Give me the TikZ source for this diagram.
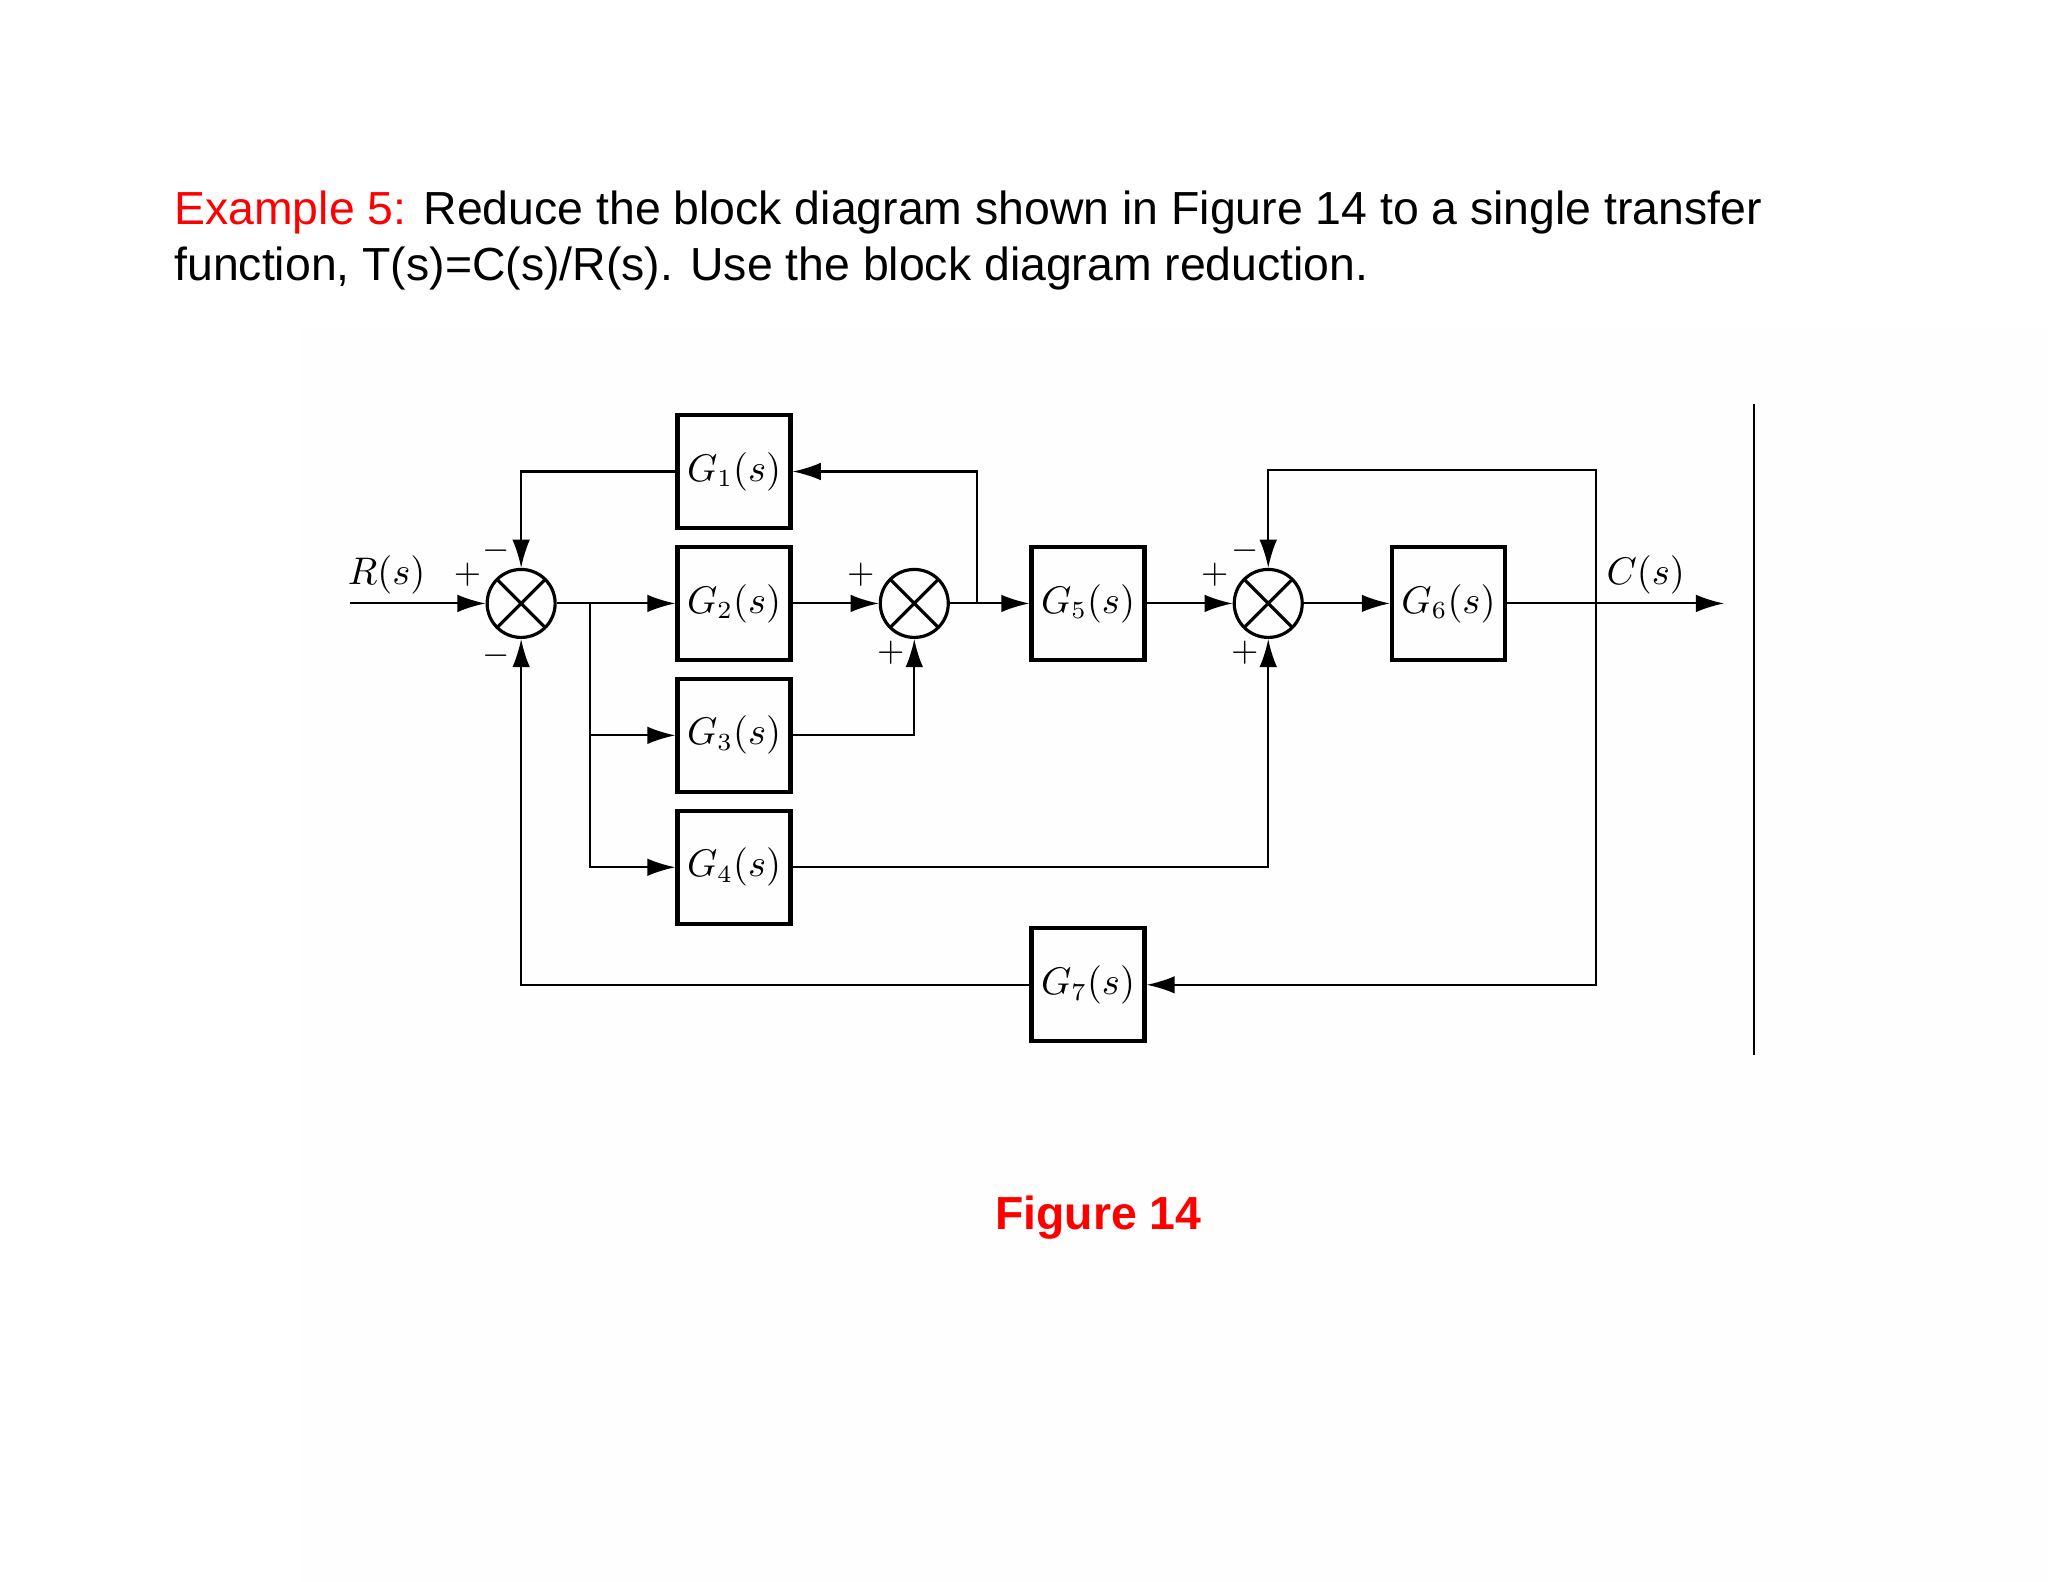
\documentclass[tikz,border=0pt]{standalone}
\usetikzlibrary{arrows.meta}
\usepackage{fontspec}
\setmainfont{Liberation Sans}
\begin{document}
\begin{tikzpicture}[x=0.01306cm,y=-0.01306cm,
  blk/.style={draw,line width=1.2pt,minimum width=1.13cm,minimum height=1.13cm,inner sep=0pt,font=\fontsize{10.5}{13}\selectfont},
  sum/.style={draw,circle,line width=0.9pt,minimum size=0.68cm,inner sep=0pt,
    path picture={\draw[line width=0.9pt] (path picture bounding box.north west)--(path picture bounding box.south east)
      (path picture bounding box.north east)--(path picture bounding box.south west);}},
  sig/.style={line width=0.6pt,-{Latex[length=8pt,width=5pt]}},
  ln/.style={line width=0.6pt},
  sg/.style={font=\fontsize{10}{12}\selectfont},
  ttl/.style={anchor=base west,inner sep=0pt,font=\fontsize{13.2}{16}\selectfont}]
\useasboundingbox (0,0) rectangle (1568,1211);
\fill[gray!1] (230,250) rectangle (1568,1211);
% title
\node[ttl] at (133,172) {\textcolor{red}{Example 5:} Reduce the block diagram shown in Figure 14 to a single transfer};
\node[ttl] at (133,215) {function, T(s)=C(s)/R(s). Use the block diagram reduction.};
% blocks
\node[blk] (g1) at (562,361) {$G_1(s)$};
\node[blk] (g2) at (562,462) {$G_2(s)$};
\node[blk] (g3) at (562,563) {$G_3(s)$};
\node[blk] (g4) at (562,664) {$G_4(s)$};
\node[blk] (g5) at (833,462) {$G_5(s)$};
\node[blk] (g6) at (1109,462) {$G_6(s)$};
\node[blk] (g7) at (833,754) {$G_7(s)$};
\node[sum] (s1) at (399,462) {};
\node[sum] (s2) at (700,462) {};
\node[sum] (s3) at (971,462) {};
% coordinates
\coordinate (in) at (268,462);
\coordinate (out) at (1320,462);
\coordinate (b1) at (452,462);
\coordinate (b2) at (748,462);
\coordinate (b3) at (1222,462);
% signals
\draw[sig] (in) -- (s1);
\draw[ln] (s1) -- (b1);
\draw[sig] (b1) -- (g2);
\draw[sig] (b1) |- (g3);
\draw[sig] (b1) |- (g4);
\draw[sig] (g2) -- (s2);
\draw[sig] (g3) -| (s2);
\draw[ln] (s2) -- (b2);
\draw[sig] (b2) -- (g5);
\draw[sig] (b2) |- (g1);
\draw[sig] (g1) -| (s1);
\draw[sig] (g5) -- (s3);
\draw[sig] (g4) -| (s3);
\draw[sig] (s3) -- (g6);
\draw[sig] (g6) -- (out);
\draw[sig] (b3) |- (971,360) -- (s3);
\draw[sig] (b3) |- (g7);
\draw[sig] (g7) -| (s1);
% labels
\node[font=\fontsize{11}{13}\selectfont] at (296,440) {$R(s)$};
\node[font=\fontsize{11}{13}\selectfont] at (1260,440) {$C(s)$};
\node[sg] at (358,440) {$+$};
\node[sg] at (380,422) {$-$};
\node[sg] at (380,502) {$-$};
\node[sg] at (659,440) {$+$};
\node[sg] at (682,500) {$+$};
\node[sg] at (930,440) {$+$};
\node[sg] at (953,422) {$-$};
\node[sg] at (953,500) {$+$};
\draw[line width=0.6pt] (1343,309) -- (1343,808);
\node[font=\bfseries\fontsize{13.2}{16}\selectfont,text=red] at (841,932) {Figure 14};
\end{tikzpicture}
\end{document}
